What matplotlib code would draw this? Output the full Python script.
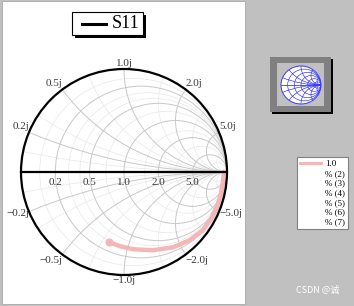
import numpy as np
import matplotlib
matplotlib.use('Agg')
import matplotlib.pyplot as plt
from matplotlib.patches import Circle, Rectangle
from matplotlib.lines import Line2D

# S11 trace (re, im)
gamma_re = [0.97, 0.96, 0.94, 0.90, 0.84, 0.76, 0.64, 0.48, 0.28, 0.09, -0.04, -0.15]
gamma_im = [0.00, -0.10, -0.22, -0.34, -0.46, -0.57, -0.66, -0.73, -0.76, -0.75, -0.72, -0.68]

r_major = [0.2, 0.5, 1.0, 2.0, 5.0]
r_minor = [0.1, 0.3, 0.4, 0.7, 1.5, 3.0, 10.0]
x_major = [0.2, 0.5, 1.0, 2.0, 5.0]
x_minor = [0.1, 0.3, 0.7, 1.5, 3.0, 10.0]
r_labels = ['0.2', '0.5', '1.0', '2.0', '5.0']
x_labels = ['0.2j', '0.5j', '1.0j', '2.0j', '5.0j']
legend_labels = ['1.0', '% (2)', '% (3)', '% (4)', '% (5)', '% (6)', '% (7)']

W, H = 354, 306
serif = 'Liberation Serif'


def fx(x):
    return x / W


def fy(y):
    return 1 - y / H


def smith_grid(ax, rs, xs, color, lw):
    clip = Circle((0, 0), 1, transform=ax.transData)
    for r in rs:
        c = Circle((r / (1 + r), 0), 1 / (1 + r), fill=False, ec=color, lw=lw)
        ax.add_patch(c)
        c.set_clip_path(clip)
    for x in xs:
        for s in (1, -1):
            c = Circle((1, s / x), 1 / x, fill=False, ec=color, lw=lw)
            ax.add_patch(c)
            c.set_clip_path(clip)


fig = plt.figure(figsize=(W / 100, H / 100), dpi=100, facecolor='#c0c0c0')

# white page on the left
fig.patches.append(Rectangle((fx(2), fy(304)), fx(243), 303 / H, transform=fig.transFigure,
                             fc='white', ec='#a8a8a8', lw=0.6, zorder=0))

# main smith chart
ax = fig.add_axes([fx(21), fy(275), fx(206), 206 / H])
ax.set_zorder(10)
ax.set_xlim(-1, 1)
ax.set_ylim(-1, 1)
ax.axis('off')
smith_grid(ax, r_minor, x_minor, '#e8e8e8', 0.5)
smith_grid(ax, r_major, x_major, '#c8c8c8', 0.7)
ax.add_patch(Circle((0, 0), 1, fill=False, ec='black', lw=1.6, zorder=5, clip_on=False))
ax.plot([-1, 1], [0, 0], color='black', lw=1.6, zorder=5, clip_on=False)

ax.plot(gamma_re, gamma_im, color='#f4b6b6', lw=3.2, solid_capstyle='round',
        solid_joinstyle='round', zorder=4, clip_on=False)
ax.plot(gamma_re[-1:], gamma_im[-1:], 'o', color='#f4b6b6', ms=4.8, zorder=4)

for r, lab in zip(r_major, r_labels):
    g = (r - 1) / (r + 1)
    ax.annotate(lab, (g, 0), xytext=(0, -4), textcoords='offset points',
                ha='center', va='top', fontsize=8, family=serif, color='#383838')

for x, lab in zip(x_major, x_labels):
    for s in (1, -1):
        z = complex(0, s * x)
        g = (z - 1) / (z + 1)
        ha = 'center' if abs(g.real) < 0.05 else ('left' if g.real > 0 else 'right')
        if s > 0:
            va = 'bottom'
            txt = lab
        else:
            va = 'center' if x in (0.2, 5.0) else 'top'
            txt = '\u2212' + lab
        dy = 1 if s > 0 else -1
        ax.annotate(txt, (g.real, g.imag), xytext=(0, dy), textcoords='offset points',
                    ha=ha, va=va, fontsize=8, family=serif, color='#383838',
                    annotation_clip=False)

# S11 title legend box with black shadow
fig.patches.append(Rectangle((fx(75), fy(38)), fx(71), 23 / H, transform=fig.transFigure,
                             fc='black', ec='none', zorder=2))
fig.patches.append(Rectangle((fx(72), fy(35)), fx(71), 23 / H, transform=fig.transFigure,
                             fc='white', ec='black', lw=0.8, zorder=3))
fig.lines.append(Line2D([fx(82), fx(106)], [fy(24), fy(24)], transform=fig.transFigure,
                        color='black', lw=2.2, zorder=4))
fig.text(fx(112), fy(24), 'S11', fontsize=13, family=serif, ha='left', va='center', zorder=4)

# thumbnail panel
fig.patches.append(Rectangle((fx(272), fy(114)), fx(61), 55 / H, transform=fig.transFigure,
                             fc='black', ec='none'))
fig.patches.append(Rectangle((fx(270), fy(112)), fx(61), 55 / H, transform=fig.transFigure,
                             fc='#808080', ec='none'))
fig.patches.append(Rectangle((fx(277), fy(106)), fx(47), 43 / H, transform=fig.transFigure,
                             fc='#c0c0c0', ec='none'))
ax2 = fig.add_axes([fx(281), fy(104), fx(40), 38 / H])
ax2.set_zorder(10)
ax2.set_xlim(-1, 1)
ax2.set_ylim(-1, 1)
ax2.axis('off')
ax2.add_patch(Circle((0, 0), 1, fc='white', ec='none'))
smith_grid(ax2, [0.2, 0.5, 1.0, 2.0, 5.0], [0.2, 0.5, 1.0, 2.0, 5.0], '#3a3aff', 0.5)
ax2.add_patch(Circle((0, 0), 1, fill=False, ec='#3a3aff', lw=0.7, clip_on=False))
ax2.plot([-1, 1], [0, 0], color='#3a3aff', lw=0.6)

# series legend
handles = [Line2D([], [], color='#f4b6b6', lw=2.2)] + \
          [Line2D([], [], color='none') for _ in legend_labels[1:]]
leg = fig.legend(handles, legend_labels, loc='upper left',
                 bbox_to_anchor=(fx(297), fy(157)), bbox_transform=fig.transFigure,
                 borderaxespad=0, frameon=True, fancybox=False,
                 edgecolor='#808080', framealpha=1, handlelength=2.4, handletextpad=0.4,
                 labelspacing=0.15, borderpad=0.3, prop={'family': serif, 'size': 6.5})
leg.get_frame().set_linewidth(0.8)

fig.text(fx(318), fy(290), 'CSDN @诚', fontsize=6.5, color='white', ha='center', va='center',
         family=['Noto Sans CJK SC', 'DejaVu Sans'])

fig.savefig('out.png', dpi=100, facecolor=fig.get_facecolor())
